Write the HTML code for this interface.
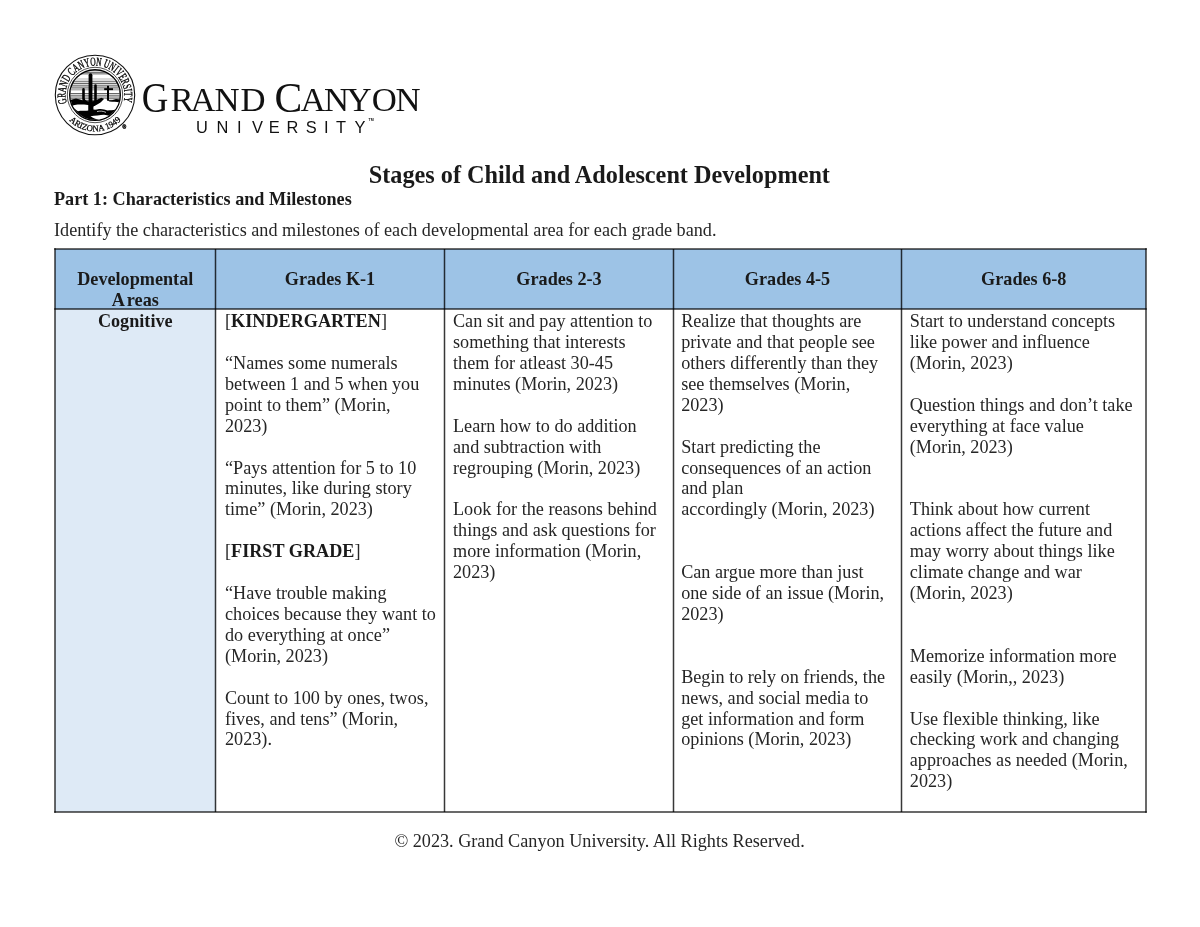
<!DOCTYPE html>
<html lang="en">
<head>
<meta charset="utf-8">
<title>Stages of Child and Adolescent Development</title>
<style>
html,body{margin:0;padding:0;background:#fff;}
body{width:1200px;height:927px;position:relative;overflow:hidden;font-family:"Liberation Serif",serif;color:#262626;font-size:18.18px;line-height:20.9px;}
.abs{position:absolute;white-space:nowrap;}
.b,b{font-weight:bold;color:#1a1a1a;}
.fill{position:absolute;}
.col{position:absolute;white-space:nowrap;top:311.05px;line-height:20.92px;}
.hd{position:absolute;white-space:nowrap;text-align:center;font-weight:bold;color:#1a1a1a;top:269.4px;}
</style>
</head>
<body>
<!-- LOGO -->
<!--LOGO_START--><svg id="logosvg" width="1200" height="160" viewBox="0 0 1200 160" style="position:absolute;left:0;top:0;">
<defs>
<clipPath id="inner"><circle cx="95" cy="95" r="24.8"/></clipPath>
<path id="arcTop" d="M66.74,103.10 A29.4,29.4 0 1 1 123.65,101.61"/>
<path id="arcBot" d="M69.04,120.51 A36.4,36.4 0 0 0 120.96,120.51"/>
</defs>
<circle cx="95" cy="95" r="39.7" fill="none" stroke="#111" stroke-width="1.1"/>
<circle cx="95" cy="95" r="27.7" fill="none" stroke="#222" stroke-width="0.8"/>
<circle cx="95" cy="95" r="25.3" fill="none" stroke="#000" stroke-width="1.4"/>
<g clip-path="url(#inner)">
<rect x="68" y="78" width="54" height="3.2" fill="#dadada"/>
<rect x="68" y="87.5" width="54" height="3" fill="#b4b4b4"/>
<g stroke="#000" stroke-width="0.6"><line x1="68" x2="122" y1="70.75" y2="70.75"/><line x1="68" x2="122" y1="72.60" y2="72.60"/><line x1="68" x2="122" y1="73.90" y2="73.90"/><line x1="68" x2="122" y1="81.75" y2="81.75"/><line x1="68" x2="122" y1="83.50" y2="83.50"/><line x1="68" x2="122" y1="85.25" y2="85.25"/><line x1="68" x2="122" y1="87.00" y2="87.00"/><line x1="68" x2="122" y1="93.50" y2="93.50"/><line x1="68" x2="122" y1="95.25" y2="95.25"/><line x1="68" x2="122" y1="97.00" y2="97.00"/><line x1="68" x2="122" y1="98.75" y2="98.75"/><line x1="68" x2="122" y1="100.50" y2="100.50"/></g>
<path d="M68,101 L72,99.5 L76,98.6 L80,99.5 L84,101 L88,101.5 L94,101 L98,99.2 L101.5,97.7 L104,99 L107,100.5 L112,100.2 L116,99 L120,99.6 L124,101 L124,125 L66,125 Z" fill="#000"/>
<path d="M72.5,106 C75,104.2 80,104.8 84,104.6 L88.4,105 L88.4,110.5 C85,111.2 81,110.4 78,111.2 C76,110 74,108.4 72.5,106 Z" fill="#fff"/>
<path d="M93.4,106.5 C96,105 98.5,104 100.5,102.5 C102.5,101 103.6,99 105,98.6 C106.5,99.6 107.5,101 109.5,101.4 C113,101.6 116.5,101.6 119.5,102.6 C119,105 117.5,107.5 115.5,109.6 C113,110.6 110,110 107.5,110.6 C105,109.4 102,108.6 99,109 C97,109.6 95,110 93.4,109.6 Z" fill="#fff"/>
<path d="M90.5,116.2 C95,115.6 100,115.2 104,114.8 C106,115 108,115.4 109.5,116 C107,117.6 103,119.2 99,120 C96,119.2 93,117.8 90.5,116.2 Z" fill="#fff"/>
<path d="M97,111.6 C100,110.8 103,111 106,112.4" fill="none" stroke="#fff" stroke-width="0.7"/>
<path d="M88.6,113.5 L88.6,75.2 Q88.6,73.2 90.5,73.2 Q92.4,73.2 92.4,75.2 L92.4,113.5 Z" fill="#000"/>
<path d="M82.2,89.4 Q82.2,88 83.5,88 Q84.8,88 84.8,89.4 L84.8,98.5 Q85.2,101 89,101.6 L89,104.6 Q82.2,104 82.2,98.5 Z" fill="#000"/>
<path d="M94.2,85.6 Q94.2,84.2 95.5,84.2 Q96.8,84.2 96.8,85.6 L96.8,101.5 Q96.7,106 92.2,106.6 L92.2,103.8 Q94.2,103.2 94.2,101 Z" fill="#000"/>
<rect x="107" y="85.8" width="2" height="14.7" fill="#000"/>
<rect x="104.2" y="88.2" width="8.8" height="1.9" fill="#000"/>
</g>
<text font-family="'Liberation Serif',serif" font-size="12" fill="#000" stroke="#000" stroke-width="0.36"><textPath href="#arcTop" textLength="107.2" lengthAdjust="spacingAndGlyphs">GRAND CANYON UNIVERSITY</textPath></text>
<text font-family="'Liberation Serif',serif" font-size="8.8" fill="#000" stroke="#000" stroke-width="0.25"><textPath href="#arcBot" textLength="57.8" lengthAdjust="spacingAndGlyphs">ARIZONA 1949</textPath></text>
<text x="122.4" y="129.2" font-family="'Liberation Sans',sans-serif" font-size="5" font-weight="bold" fill="#000" stroke="#000" stroke-width="0.3">®</text>
<text font-family="'Liberation Serif',serif" fill="#111" font-size="41.6" transform="translate(141.8,111.7) scale(0.885,1)">G</text>
<text font-family="'Liberation Serif',serif" fill="#111" y="111.15" font-size="34.7" x="170.6 190.6 214.6 240.6">RAND</text>
<text font-family="'Liberation Serif',serif" fill="#111" font-size="41.6" x="274.6" y="111.7">C</text>
<text font-family="'Liberation Serif',serif" fill="#111" y="111.15" font-size="34.7" x="300.4 324 346.4 371.8 395.4">ANYON</text>
<text font-family="'Liberation Sans',sans-serif" fill="#111" y="133" font-size="16.4" text-anchor="middle" x="201.9 222.3 239.4 257.5 274.3 292.3 311.3 326.3 341 360">UNIVERSITY</text>
<text font-family="'Liberation Sans',sans-serif" fill="#111" x="368.6" y="120.6" font-size="3.6" font-weight="bold">TM</text>
</svg><!--LOGO_END-->

<div class="abs b" id="title" style="left:368.8px;top:161px;font-size:24.24px;line-height:28px;">Stages of Child and Adolescent Development</div>
<div class="abs b" id="part" style="left:54px;top:189.3px;">Part 1: Characteristics and Milestones</div>
<div class="abs" id="ident" style="left:54px;top:220px;">Identify the characteristics and milestones of each developmental area for each grade band.</div>

<!-- TABLE -->
<div class="fill" style="left:55px;top:249px;width:1091px;height:60px;background:#9dc3e6;"></div>
<div class="fill" style="left:55px;top:309px;width:160.5px;height:503px;background:#deeaf6;"></div>

<svg width="1200" height="927" viewBox="0 0 1200 927" style="position:absolute;left:0;top:0;" stroke="#000" stroke-opacity="0.78" stroke-width="1.5" fill="none">
<path d="M54.25,249H1146.75 M54.25,309H1146.75 M54.25,812H1146.75"/>
<path d="M55,248.25V812.75 M215.5,249V812 M444.5,249V812 M673.5,249V812 M901.5,249V812 M1146,248.25V812.75"/>
</svg>
<div class="hd" style="left:55px;width:160.5px;">Developmental<br><span style="letter-spacing:2px">A</span>reas</div>
<div class="hd" style="left:215.5px;width:229px;">Grades K-1</div>
<div class="hd" style="left:444.5px;width:229px;">Grades 2-3</div>
<div class="hd" style="left:673.5px;width:228px;">Grades 4-5</div>
<div class="hd" style="left:901.5px;width:244.5px;">Grades 6-8</div>

<div class="col b" style="left:55px;width:160.5px;text-align:center;">Cognitive</div>

<div class="col" id="c1" style="left:225px;">[<b>KINDERGARTEN</b>]<br><br>“Names some numerals<br>between 1 and 5 when you<br>point to them” (Morin,<br>2023)<br><br>“Pays attention for 5 to 10<br>minutes, like during story<br>time” (Morin, 2023)<br><br>[<b>FIRST GRADE</b>]<br><br>“Have trouble making<br>choices because they want to<br>do everything at once”<br>(Morin, 2023)<br><br>Count to 100 by ones, twos,<br>fives, and tens” (Morin,<br>2023).</div>

<div class="col" id="c2" style="left:453px;">Can sit and pay attention to<br>something that interests<br>them for atleast 30-45<br>minutes (Morin, 2023)<br><br>Learn how to do addition<br>and subtraction with<br>regrouping (Morin, 2023)<br><br>Look for the reasons behind<br>things and ask questions for<br>more information (Morin,<br>2023)</div>

<div class="col" id="c3" style="left:681.2px;">Realize that thoughts are<br>private and that people see<br>others differently than they<br>see themselves (Morin,<br>2023)<br><br>Start predicting the<br>consequences of an action<br>and plan<br>accordingly (Morin, 2023)<br><br><br>Can argue more than just<br>one side of an issue (Morin,<br>2023)<br><br><br>Begin to rely on friends, the<br>news, and social media to<br>get information and form<br>opinions (Morin, 2023)</div>

<div class="col" id="c4" style="left:909.8px;">Start to understand concepts<br>like power and influence<br>(Morin, 2023)<br><br>Question things and don’t take<br>everything at face value<br>(Morin, 2023)<br><br><br>Think about how current<br>actions affect the future and<br>may worry about things like<br>climate change and war<br>(Morin, 2023)<br><br><br>Memorize information more<br>easily (Morin,, 2023)<br><br>Use flexible thinking, like<br>checking work and changing<br>approaches as needed (Morin,<br>2023)</div>

<div class="abs" id="foot" style="left:394.4px;top:831.3px;">© 2023. Grand Canyon University. All Rights Reserved.</div>
</body>
</html>
